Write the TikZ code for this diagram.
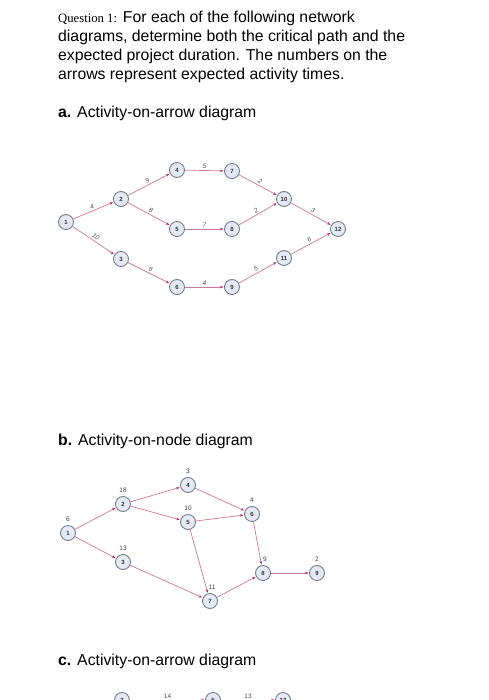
\documentclass[tikz,border=0pt]{standalone}
\usepackage{fontspec}
\setmainfont{Liberation Sans}
\newfontfamily\qfont{Liberation Serif}
\usepackage{xcolor}
\usetikzlibrary{arrows.meta}
\definecolor{evfill}{RGB}{228,233,245}
\definecolor{evline}{RGB}{118,124,138}
\definecolor{actline}{RGB}{204,118,156}
\definecolor{acttip}{RGB}{190,40,100}

\begin{document}
\begin{tikzpicture}[
  x=1pt, y=-1pt,
  txt/.style={anchor=base west, inner sep=0pt, font=\fontsize{15.8}{19}\selectfont},
  ev/.style={circle, draw=evline, fill=evfill, line width=0.9pt, minimum size=15pt, inner sep=0pt, font=\fontsize{6}{6}\selectfont\bfseries, text=black!80},
  arr/.style={-{Stealth[length=3.5pt, width=2.6pt, color=acttip]}, actline, line width=0.7pt, shorten >=0.6pt},
  wt/.style={font=\fontsize{6.5}{6.5}\selectfont\itshape, text=black!70, sloped, above, inner sep=1.5pt},
  dur/.style={font=\fontsize{6.5}{6.5}\selectfont, text=black!75, inner sep=1pt, label distance=2pt},
]
\useasboundingbox (0,0) rectangle (488,700);
\clip (0,0) rectangle (488,700);
% ================= QUESTION =================
\node[txt] (q1) at (58,23) {{\qfont\fontsize{12.7}{19}\selectfont Question 1:} For each of the following network};
\node[txt] (q2) at (58,42) {diagrams, determine both the critical path and the};
\node[txt] (q3) at (58,61) {expected project duration. The numbers on the};
\node[txt] (q4) at (58,80) {arrows represent expected activity times.};
% ================= PART A =================
\node[txt] (ta) at (58,118) {\textbf{a.} Activity-on-arrow diagram};
\node[ev] (a1) at (66,222) {1};
\node[ev] (a2) at (121,199) {2};
\node[ev] (a3) at (121,259) {3};
\node[ev] (a4) at (177,170) {4};
\node[ev] (a5) at (177,229) {5};
\node[ev] (a6) at (177,287) {6};
\node[ev] (a7) at (232,171) {7};
\node[ev] (a8) at (232,229) {8};
\node[ev] (a9) at (232,287) {9};
\node[ev] (a10) at (284,199) {10};
\node[ev] (a11) at (284,258) {11};
\node[ev] (a12) at (338,229) {12};
\draw[arr] (a1) -- node[wt]{4} (a2);
\draw[arr] (a1) -- node[wt]{10} (a3);
\draw[arr] (a2) -- node[wt]{9} (a4);
\draw[arr] (a2) -- node[wt]{8} (a5);
\draw[arr] (a4) -- node[wt]{5} (a7);
\draw[arr] (a5) -- node[wt]{7} (a8);
\draw[arr] (a3) -- node[wt]{6} (a6);
\draw[arr] (a6) -- node[wt]{4} (a9);
\draw[arr] (a7) -- node[wt]{2} (a10);
\draw[arr] (a8) -- node[wt]{2} (a10);
\draw[arr] (a10) -- node[wt]{3} (a12);
\draw[arr] (a9) -- node[wt]{5} (a11);
\draw[arr] (a11) -- node[wt]{6} (a12);
% ================= PART B =================
\node[txt] (tb) at (58,445) {\textbf{b.} Activity-on-node diagram};
\node[ev, label={[dur]above:6}] (b1) at (68,533) {1};
\node[ev, label={[dur]above:18}] (b2) at (123,504) {2};
\node[ev, label={[dur]above:13}] (b3) at (123,562) {3};
\node[ev, label={[dur]above:3}] (b4) at (188,485) {4};
\node[ev, label={[dur]above:10}] (b5) at (188,522) {5};
\node[ev, label={[dur]above:4}] (b6) at (252,514) {6};
\node[ev, label={[dur, xshift=2pt]above:11}] (b7) at (210,601) {7};
\node[ev, label={[dur, xshift=2pt]above:9}] (b8) at (263,573) {8};
\node[ev, label={[dur]above:2}] (b9) at (317,573) {9};
\draw[arr] (b1) -- (b2);
\draw[arr] (b1) -- (b3);
\draw[arr] (b2) -- (b4);
\draw[arr] (b2) -- (b5);
\draw[arr] (b4) -- (b6);
\draw[arr] (b5) -- (b6);
\draw[arr] (b5) -- (b7);
\draw[arr] (b3) -- (b7);
\draw[arr] (b6) -- (b8);
\draw[arr] (b7) -- (b8);
\draw[arr] (b8) -- (b9);
% ================= PART C =================
\node[txt] (tc) at (58,665) {\textbf{c.} Activity-on-arrow diagram};
\node[ev] (c2) at (122,700) {2};
\node[ev] (c5) at (213,700) {5};
\node[ev] (c12) at (283,700) {12};
\draw[arr] (c2) -- node[wt, font=\fontsize{6.5}{6.5}\selectfont]{14} (c5);
\draw[arr] (c5) -- node[wt, font=\fontsize{6.5}{6.5}\selectfont]{13} (c12);
\end{tikzpicture}
\end{document}
